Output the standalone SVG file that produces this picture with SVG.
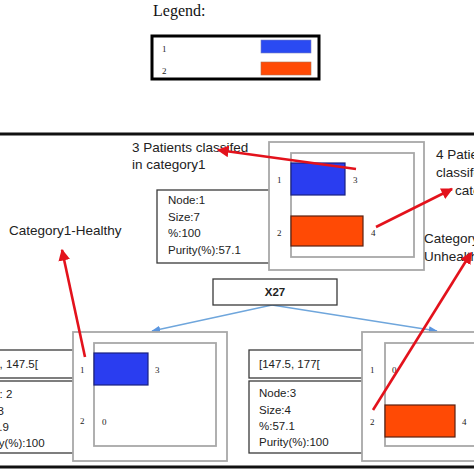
<svg xmlns="http://www.w3.org/2000/svg" width="474" height="474" viewBox="0 0 474 474">
<defs>
<style>
.ann{font-family:"Liberation Sans",Arial,sans-serif;font-size:13.5px;fill:#222}
.info{font-family:"Liberation Sans",Arial,sans-serif;font-size:11.5px;fill:#222}
.tiny{font-family:"Liberation Serif",serif;font-size:9px;fill:#222}
.hist{fill:#fff;stroke:#a8a8a8;stroke-width:1.8}
.box{fill:#fff;stroke:#3a3a3a;stroke-width:1.3}
.blue{fill:#2a3df0;stroke:#1a2080;stroke-width:1.2}
.orange{fill:#ff4a05;stroke:#5a2010;stroke-width:1.2}
.red{stroke:#e3121c;stroke-width:2.6;fill:none}
.conn{stroke:#6fa6dc;stroke-width:1.3;fill:none}
</style>
<marker id="ra" viewBox="0 0 10 10" refX="9" refY="5" markerWidth="4.5" markerHeight="4.5" orient="auto" markerUnits="strokeWidth"><path d="M0,0 L10,5 L0,10 z" fill="#e3121c"/></marker>
<marker id="ba" viewBox="0 0 10 10" refX="9" refY="5" markerWidth="7" markerHeight="7" orient="auto" markerUnits="strokeWidth"><path d="M0,1 L10,5 L0,9 z" fill="#5b96e0"/></marker>
</defs>
<rect width="474" height="474" fill="#fff"/>

<g id="legend">
<text x="153" y="16" font-family="Liberation Serif,serif" font-size="16" fill="#111">Legend:</text>
<rect x="152" y="36" width="167" height="43" fill="#fff" stroke="#000" stroke-width="3"/>
<text x="162" y="52" class="tiny" font-size="6">1</text>
<text x="162" y="74" class="tiny" font-size="6">2</text>
<rect x="261" y="40" width="50" height="13" fill="#2a4af2" stroke="#7a80c0" stroke-width="0.6"/>
<rect x="261" y="62" width="50" height="13" fill="#ff4a05" stroke="#b07050" stroke-width="0.6"/>
</g>

<g id="frame">
<line x1="0" y1="134" x2="474" y2="134" stroke="#111" stroke-width="3"/>
<line x1="0" y1="467" x2="474" y2="467" stroke="#111" stroke-width="3"/>
</g>

<g id="connectors">
<line class="conn" x1="272" y1="305" x2="152" y2="331" marker-end="url(#ba)"/>
<line class="conn" x1="272" y1="305" x2="437" y2="331" marker-end="url(#ba)"/>
</g>

<g id="node1">
<rect class="box" x="157" y="190" width="118" height="73"/>
<text class="info" x="168" y="204">Node:1</text>
<text class="info" x="168" y="221">Size:7</text>
<text class="info" x="168" y="237">%:100</text>
<text class="info" x="168" y="254">Purity(%):57.1</text>
<rect class="hist" x="269" y="142" width="155" height="128"/>
<rect class="hist" x="291" y="153" width="123" height="104"/>
<rect class="blue" x="291" y="163" width="54" height="32"/>
<rect class="orange" x="291" y="216" width="72" height="30"/>
<text class="tiny" x="277" y="183">1</text>
<text class="tiny" x="277" y="236">2</text>
<text class="tiny" x="353" y="183">3</text>
<text class="tiny" x="371" y="236">4</text>
</g>

<g id="split">
<rect class="box" x="213" y="279" width="124" height="26"/>
<text x="275" y="296" text-anchor="middle" font-family="Liberation Sans,Arial,sans-serif" font-size="11.5" font-weight="bold" fill="#222">X27</text>
</g>

<g id="node2">
<rect class="box" x="-10" y="350" width="90" height="28"/>
<text class="info" x="-10" y="368">]0, 147.5[</text>
<rect class="box" x="-10" y="381" width="90" height="72"/>
<text class="info" x="-28" y="398">Node: 2</text>
<text class="info" x="-28" y="415">Size:3</text>
<text class="info" x="-27" y="431">%:42.9</text>
<text class="info" x="-25" y="447">Purity(%):100</text>
<rect class="hist" x="73" y="332" width="154" height="129"/>
<rect class="hist" x="94" y="343" width="122" height="103"/>
<rect class="blue" x="94" y="353" width="54" height="32"/>
<text class="tiny" x="80" y="373">1</text>
<text class="tiny" x="80" y="424">2</text>
<text class="tiny" x="155" y="373">3</text>
<text class="tiny" x="102" y="425">0</text>
</g>

<g id="node3">
<rect class="box" x="249" y="350" width="120" height="28"/>
<text class="info" x="259" y="368">[147.5, 177[</text>
<rect class="box" x="249" y="381" width="120" height="72"/>
<text class="info" x="259" y="397">Node:3</text>
<text class="info" x="259" y="414">Size:4</text>
<text class="info" x="259" y="430">%:57.1</text>
<text class="info" x="259" y="446">Purity(%):100</text>
<rect class="hist" x="362" y="332" width="130" height="129"/>
<rect class="hist" x="385" y="343" width="110" height="103"/>
<rect class="orange" x="385" y="405" width="70" height="32"/>
<text class="tiny" x="370" y="373">1</text>
<text class="tiny" x="370" y="425">2</text>
<text class="tiny" x="392" y="373">0</text>
<text class="tiny" x="462" y="425">4</text>
</g>

<g id="annotations">
<text class="ann" x="132" y="152">3 Patients classifed</text>
<text class="ann" x="132" y="169">in category1</text>
<text class="ann" x="436" y="159">4 Patients</text>
<text class="ann" x="436" y="177">classifed in</text>
<text class="ann" x="455" y="195">category2</text>
<text class="ann" x="9" y="235">Category1-Healthy</text>
<text class="ann" x="424" y="243">Category2-</text>
<text class="ann" x="424" y="261">Unhealthy</text>
<line class="red" x1="356" y1="169" x2="218" y2="150" marker-end="url(#ra)"/>
<line class="red" x1="376" y1="227" x2="452" y2="189" marker-end="url(#ra)"/>
<line class="red" x1="85" y1="357" x2="62" y2="250" marker-end="url(#ra)"/>
<line class="red" x1="373" y1="410" x2="471" y2="253" marker-end="url(#ra)"/>
</g>
</svg>
